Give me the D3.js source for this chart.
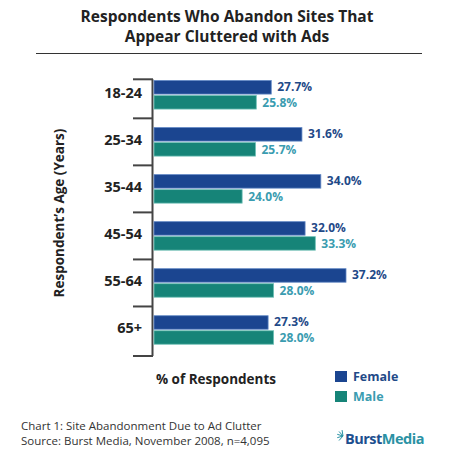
<!DOCTYPE html>
<html>
<head>
<meta charset="utf-8">
<script src="https://cdn.jsdelivr.net/npm/d3@7"></script>
<style>
  body { margin: 0; background: #fff; }
  text { font-family: "Open Sans", "DejaVu Sans", sans-serif; }
</style>
</head>
<body>
<svg id="graph" width="450" height="460"></svg>
<script>
// donnees
var ages = ["18-24", "25-34", "35-44", "45-54", "55-64", "65+"];
var female = [27.7, 31.6, 34.0, 32.0, 37.2, 27.3];
var male = [25.8, 25.7, 24.0, 33.3, 28.0, 28.0];
var series = ["Female", "Male"];
var couleurs = ["#1b4590", "#168478"];
var couleursTxt = ["#1f4a88", "#3a9cb0"];

var svg = d3.select("#graph");

// titre
svg.append("text").attr("x", 227).attr("y", 21.5).attr("text-anchor", "middle")
  .attr("font-size", 15.5).attr("font-weight", "bold").attr("fill", "#222")
  .text("Respondents Who Abandon Sites That");
svg.append("text").attr("x", 227).attr("y", 42).attr("text-anchor", "middle")
  .attr("font-size", 15.5).attr("font-weight", "bold").attr("fill", "#222")
  .text("Appear Cluttered with Ads");
svg.append("line").attr("x1", 36).attr("x2", 422).attr("y1", 53.5).attr("y2", 53.5)
  .attr("stroke", "#333").attr("stroke-width", 1.2);

// echelles
var scaleY = d3.scaleBand().domain(ages).range([71.3, 353.5]);
var scaleX = d3.scaleLinear().domain([12.8, 37.2]).range([154, 346]);
var barH = 13.5, gap = 1.5;

// axe vertical + separateurs
var bornes = d3.range(ages.length + 1).map(function(i) {
  return scaleY.range()[0] + i * scaleY.step();
});
bornes[0] = scaleY(ages[0]) + 8;
bornes[ages.length] = scaleY.range()[1] + 2.5;
svg.append("line").attr("x1", 152.5).attr("x2", 152.5)
  .attr("y1", bornes[0]).attr("y2", bornes[ages.length])
  .attr("stroke", "#444").attr("stroke-width", 2);
svg.selectAll(".sep").data(bornes).enter().append("line")
  .attr("x1", 133).attr("x2", 153)
  .attr("y1", function(d) { return d; }).attr("y2", function(d) { return d; })
  .attr("stroke", "#444").attr("stroke-width", 2);

// barres
var g = svg.selectAll(".grp").data(ages).enter().append("g");
[female, male].forEach(function(vals, k) {
  g.append("rect")
    .attr("x", scaleX.range()[0])
    .attr("y", function(d, i) { return scaleY(d) + scaleY.bandwidth() / 2 - barH - gap / 2 + k * (barH + gap); })
    .attr("width", function(d, i) { return scaleX(vals[i]) - scaleX.range()[0]; })
    .attr("height", barH)
    .attr("fill", couleurs[k])
    .attr("stroke", k == 0 ? "#5f86c4" : "#6fc0b6").attr("stroke-width", 0.8);
  // etiquettes des valeurs
  g.append("text")
    .attr("x", function(d, i) { return scaleX(vals[i]) + 6; })
    .attr("y", function(d, i) { return scaleY(d) + scaleY.bandwidth() / 2 - barH / 2 - gap / 2 + k * (barH + gap) + (k == 0 ? 3.3 : 5); })
    .attr("font-size", 12).attr("font-weight", "bold").attr("fill", couleursTxt[k])
    .text(function(d, i) { return vals[i].toFixed(1) + "%"; });
});
g.append("text")
  .attr("x", 142).attr("y", function(d) { return scaleY(d) + scaleY.bandwidth() / 2 + 3.5; })
  .attr("text-anchor", "end").attr("font-size", 14.5).attr("font-weight", "bold").attr("fill", "#222")
  .text(function(d) { return d; });

// titres des axes
svg.append("text").attr("transform", "translate(64,213) rotate(-90)").attr("text-anchor", "middle")
  .attr("font-size", 13.5).attr("font-weight", "bold").attr("fill", "#222")
  .text("Respondent\u2019s Age (Years)");
svg.append("text").attr("x", 216).attr("y", 384).attr("text-anchor", "middle")
  .attr("font-size", 13.5).attr("font-weight", "bold").attr("fill", "#222")
  .text("% of Respondents");

// legende
var leg = svg.selectAll(".leg").data(series).enter().append("g")
  .attr("transform", function(d, i) { return "translate(335," + (371 + i * 20) + ")"; });
leg.append("rect").attr("width", 12).attr("height", 11)
  .attr("fill", function(d, i) { return couleurs[i]; });
leg.append("text").attr("x", 18).attr("y", 10).attr("font-size", 12.5).attr("font-weight", "bold")
  .attr("fill", function(d, i) { return couleursTxt[i]; })
  .text(function(d) { return d; });

// source
svg.append("text").attr("x", 21).attr("y", 429.5).attr("font-size", 11.5).attr("fill", "#333")
  .text("Chart 1: Site Abandonment Due to Ad Clutter");
svg.append("text").attr("x", 21).attr("y", 444.5).attr("font-size", 11.5).attr("fill", "#333")
  .text("Source: Burst Media, November 2008, n=4,095");

// logo
var logo = svg.append("text").attr("x", 345).attr("y", 443.5).attr("font-size", 14.5).attr("font-weight", "bold")
  .attr("letter-spacing", -0.5);
logo.append("tspan").attr("fill", "#1d4f8f").text("Burst");
logo.append("tspan").attr("fill", "#2a92a4").text("Media");
svg.selectAll(".burst").data(d3.range(5)).enter().append("line")
  .attr("x1", 343).attr("y1", 436)
  .attr("x2", function(d) { return 343 + 6 * Math.cos(Math.PI * (0.55 + d * 0.18)); })
  .attr("y2", function(d) { return 436 - 6 * Math.sin(Math.PI * (0.55 + d * 0.18)); })
  .attr("stroke", "#2a92a4").attr("stroke-width", 1);
</script>
</body>
</html>
